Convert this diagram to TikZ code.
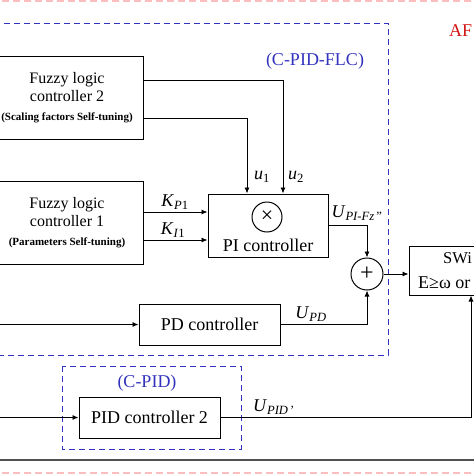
\documentclass[tikz,border=0pt]{standalone}
\usepackage{fontspec}
\setmainfont{Liberation Serif}
\usetikzlibrary{arrows.meta}
\usetikzlibrary{calc}
\usetikzlibrary{positioning}
\definecolor{grpblue}{RGB}{50,50,190}
\definecolor{afred}{RGB}{210,20,20}
\definecolor{framepink}{RGB}{250,190,190}
\definecolor{rulegray}{RGB}{80,80,80}
\newcommand{\tunefont}{\bfseries\fontsize{11}{13}\selectfont}
\newcommand{\sig}[2]{\textit{#1}\textsubscript{#2}}
\tikzset{
	>={Latex[length=6pt,width=5pt]},
	ctrlbox/.style={
		rectangle,
		draw=black, line width=1pt,
		inner sep=0pt,
		font=\fontsize{18}{20}\selectfont},
	flcbox/.style={
		rectangle,
		draw=black, line width=1pt,
		minimum width=152pt,
		minimum height=83pt},
	flctext/.style={inner sep=0pt, align=center, font=\fontsize{16}{18}\selectfont},
	opcirc/.style={circle, draw=black, line width=1pt, inner sep=0pt},
	line/.style={draw, line width=0.9pt, ->},
	grouping/.style={draw=grpblue, line width=1pt, dash pattern=on 6pt off 4pt},
	grplabel/.style={text=grpblue, inner sep=0pt, font=\fontsize{18}{20}\selectfont},
	siglabel/.style={inner sep=0pt, font=\fontsize{18}{20}\selectfont},
}

\begin{document}
\begin{tikzpicture}[x=1pt,y=-1pt]
	\useasboundingbox (0,0) rectangle (474,474);
	\clip (0,0) rectangle (474,474);
	% outer frame
	\draw[draw=framepink, line width=1.5pt, dash pattern=on 7pt off 4pt] (-10,1) rectangle (490,473);
	\draw[draw=rulegray, line width=1.2pt] (-10,460) -- (490,460);
	% groups
	\draw[grouping] (-10,23) rectangle (388,355);
	\draw[grouping] (62,366) rectangle (241,449);
	\node[grplabel] (flclabel) at (315,61) {(C-PID-FLC)};
	\node[grplabel] (pidlabel) at (147,383) {(C-PID)};
	\node[siglabel, anchor=west, text=afred] (aflabel) at (449,31) {AF};
	% blocks
	\node[flcbox, flctext] (flctwo) at (67,97.5) {Fuzzy logic\\controller 2\\[1pt]{\tunefont (Scaling factors Self-tuning)}};
	\node[flcbox, flctext] (flcone) at (67,222.5) {Fuzzy logic\\controller 1\\[1pt]{\tunefont (Parameters Self-tuning)}};
	\node[ctrlbox, minimum width=120pt, minimum height=63pt] (pictrl) at (268,225.5) {};
	\node[opcirc, minimum size=30pt, font=\fontsize{22}{22}\selectfont] (mult) at (267,217) {×};
	\node[siglabel] (pitext) at (268,245) {PI controller};
	\node[ctrlbox, minimum width=141pt, minimum height=41pt] (pdctrl) at (209.5,324.5) {PD controller};
	\node[ctrlbox, minimum width=141pt, minimum height=41pt] (pidtwo) at (149.5,417.5) {PID controller 2};
	\node[opcirc, minimum size=32pt, font=\fontsize{24}{24}\selectfont] (sum) at (367,274) {+};
	\node[ctrlbox, minimum width=140pt, minimum height=49pt] (swbox) at (479,270.5) {};
	\node[siglabel, anchor=west, font=\fontsize{16.5}{18}\selectfont] (swtop) at (443,258) {SWi};
	\node[siglabel, anchor=west] (swbot) at (418,283) {E≥ω or};
	% connectors
	\coordinate (utwo) at ([yshift=17.5pt]flctwo.east);
	\coordinate (uone) at ([yshift=-20.5pt]flctwo.east);
	\draw[line] (utwo) -| ([xshift=15pt]pictrl.north);
	\draw[line] (uone) -| ([xshift=-21pt]pictrl.north);
	\node[siglabel] (uonelabel) at (262,177) {\sig{u}{1}};
	\node[siglabel] (utwolabel) at (296,177) {\sig{u}{2}};
	\coordinate (kp) at ([yshift=10.5pt]flcone.east);
	\coordinate (ki) at ([yshift=-17.5pt]flcone.east);
	\draw[line] (kp) -- (kp -| pictrl.west);
	\draw[line] (ki) -- (ki -| pictrl.west);
	\node[siglabel] (kplabel) at (175,202) {\sig{K}{\textit{P}1}};
	\node[siglabel] (kilabel) at (173,230) {\sig{K}{\textit{I}1}};
	\draw[line] (pictrl.east) -| (sum.north);
	\node[siglabel] (upilabel) at (357,213) {\sig{U}{\textit{PI-Fz}\,''}};
	\draw[line] (sum.east) -- (sum.east -| swbox.west);
	\coordinate (pdin) at (-5,324.5);
	\draw[line] (pdin) -- (pdctrl.west);
	\draw[line] (pdctrl.east) -| (sum.south);
	\node[siglabel] (updlabel) at (311,314) {\sig{U}{\textit{PD}}};
	\coordinate (pidin) at (-5,417.5);
	\draw[line] (pidin) -- (pidtwo.west);
	\draw[line] (pidtwo.east) -| ([xshift=-8pt]swbox.south);
	\node[siglabel] (upidlabel) at (274,407) {\sig{U}{\textit{PID}\,'}};
\end{tikzpicture}
\end{document}
